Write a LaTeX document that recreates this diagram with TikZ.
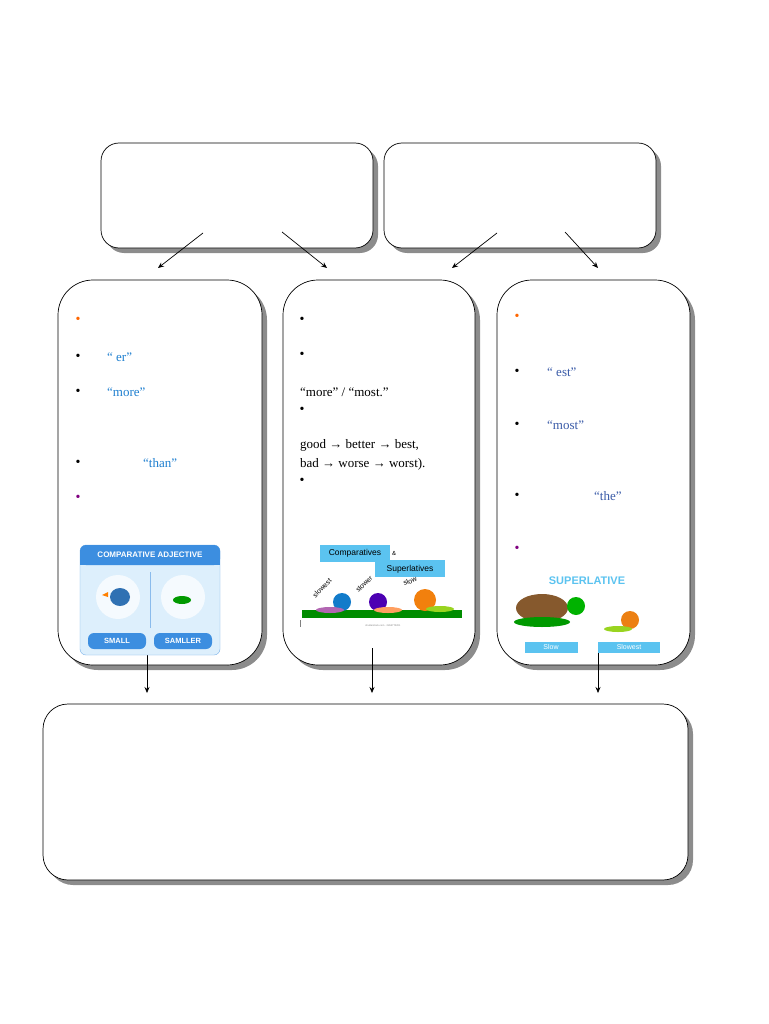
\documentclass[tikz,border=0pt]{standalone}
\usepackage{fontspec}
\setmainfont{Liberation Serif}
\newfontfamily\sansf{Liberation Sans}
\usetikzlibrary{arrows.meta}
\definecolor{lb}{HTML}{1E7FD0}
\definecolor{db}{HTML}{3A5BA8}
\definecolor{pan}{HTML}{DDEFFC}
\definecolor{hd}{HTML}{3C8EE0}
\definecolor{rib}{HTML}{5BC3F0}
\tikzset{
 x=1pt,y=-1pt,
 rbox/.style={draw=black,fill=white,line width=0.7pt},
 shad/.style={fill=black!45},
 arr/.style={-{Stealth[length=6pt,width=5pt]},line width=0.7pt},
 bul/.style={font=\fontsize{14}{14}\selectfont,inner sep=0pt},
 txt/.style={font=\fontsize{13}{15}\selectfont,inner sep=0pt,anchor=west},
 snl/.style={font=\sansf\fontsize{7}{7}\selectfont,inner sep=0pt},
}
\newcommand\rbx[5]{%
 \fill[shad,rounded corners=#5] (#1+5,#2+5) rectangle (#3+5,#4+5);
 \draw[rbox,rounded corners=#5] (#1,#2) rectangle (#3,#4);}
\begin{document}
\begin{tikzpicture}
\useasboundingbox (0,0) rectangle (768,1024);
\rbx{101}{143}{373}{248}{18}
\rbx{384}{143}{656}{248}{18}
\rbx{58}{280}{262}{665}{35}
\rbx{283}{280}{475}{665}{35}
\rbx{497}{280}{690}{665}{35}
\rbx{43}{704}{688}{880}{25}
\coordinate (a1) at (203,233); \coordinate (b1) at (158,268);
\coordinate (a2) at (282,232); \coordinate (b2) at (327,268);
\coordinate (a3) at (497,233); \coordinate (b3) at (452,268);
\coordinate (a4) at (565,232); \coordinate (b4) at (598,268);
\coordinate (c1) at (147,648); \coordinate (d1) at (147,693);
\coordinate (c2) at (372,648); \coordinate (d2) at (372,693);
\coordinate (c3) at (598,648); \coordinate (d3) at (598,693);
\foreach \s/\e in {a1/b1,a2/b2,a3/b3,a4/b4,c1/d1,c2/d2,c3/d3} \draw[arr] (\s)--(\e);
% left box text
\node[bul,text=orange!80!red] at (78,320) {•};
\node[bul] at (78,357) {•}; \node[txt,text=lb] at (107,357) {“ er”};
\node[bul] at (78,392) {•}; \node[txt,text=lb] at (107,392) {“more”};
\node[bul] at (78,463) {•}; \node[txt,text=lb] at (143,463) {“than”};
\node[bul,text=violet] at (78,498) {•};
% middle text
\node[bul] at (302,320) {•};
\node[bul] at (302,355) {•};
\node[txt] at (300,392) {“more” / “most.”};
\node[bul] at (302,410) {•};
\node[txt] at (300,445) {good → better → best,};
\node[txt] at (300,464) {bad → worse → worst).};
\node[bul] at (302,481) {•};
% right text
\node[bul,text=orange!80!red] at (517,317) {•};
\node[bul] at (517,372) {•}; \node[txt,text=db] at (547,372) {“ est”};
\node[bul] at (517,425) {•}; \node[txt,text=db] at (547,425) {“most”};
\node[bul] at (517,496) {•}; \node[txt,text=db] at (594,496) {“the”};
\node[bul,text=violet] at (517,549) {•};
% left image
\fill[pan,rounded corners=6] (80,545) rectangle (220,655);
\draw[hd!70,rounded corners=6] (80,545) rectangle (220,655);
\fill[hd,rounded corners=6] (80,545) rectangle (220,565);
\fill[hd] (80,558) rectangle (220,565);
\node[font=\sansf\bfseries\fontsize{8}{8}\selectfont,text=white] at (150,555) {COMPARATIVE ADJECTIVE};
\draw[hd!60,line width=0.8pt] (150,572) -- (150,628);
\fill[white!70!pan] (118,597) circle (22); \fill[white!70!pan] (183,597) circle (22);
\fill[hd!80!black] (120,597) ellipse (10 and 9); \fill[orange] (108,592) -- (102,595) -- (108,597) -- cycle;
\fill[green!60!black] (182,600) ellipse (9 and 4);
\fill[hd,rounded corners=6] (88,633) rectangle (146,649);
\fill[hd,rounded corners=6] (154,633) rectangle (212,649);
\node[font=\sansf\bfseries\fontsize{7.5}{8}\selectfont,text=white] at (117,641) {SMALL};
\node[font=\sansf\bfseries\fontsize{7.5}{8}\selectfont,text=white] at (183,641) {SAMLLER};
% middle image
\fill[rib] (320,545) rectangle (390,562);
\node[font=\sansf\fontsize{8.5}{9}\selectfont] at (355,553) {Comparatives};
\node[font=\sansf\fontsize{6}{6}\selectfont] at (394,553) {\&};
\fill[rib] (375,560) rectangle (445,577);
\node[font=\sansf\fontsize{8.5}{9}\selectfont] at (410,569) {Superlatives};
\fill[green!55!black] (302,610) rectangle (462,618);
\fill[cyan!60!blue] (342,602) circle (9); \fill[violet!60] (330,610) ellipse (14 and 3);
\fill[blue!40!violet] (378,602) circle (9); \fill[orange!50!pink] (388,610) ellipse (14 and 3);
\fill[orange!80!brown] (425,600) circle (11); \fill[yellow!60!green] (440,609) ellipse (14 and 3);
\node[snl,rotate=45] at (322,588) {slowest};
\node[snl,rotate=45] at (364,584) {slower};
\node[snl,rotate=20] at (410,581) {slow};
\node[font=\sansf\fontsize{2.5}{3}\selectfont,text=gray] at (383,626) {shutterstock.com · 2264770201};
\draw[gray] (300,620) -- (300,627);
% right image
\node[font=\sansf\bfseries\fontsize{11}{11}\selectfont,text=rib] at (587,581) {SUPERLATIVE};
\fill[brown!70!black] (542,608) ellipse (26 and 14);
\fill[green!60!black] (542,622) ellipse (28 and 5);
\fill[green!70!black] (576,606) circle (9);
\fill[orange!70!brown] (630,620) circle (9);
\fill[yellow!60!green] (618,629) ellipse (14 and 3);
\fill[rib] (525,642) rectangle (578,653);
\fill[rib] (598,642) rectangle (660,653);
\node[font=\sansf\fontsize{7}{7}\selectfont,text=white] at (551,647) {Slow};
\node[font=\sansf\fontsize{7}{7}\selectfont,text=white] at (629,647) {Slowest};
\end{tikzpicture}
\end{document}
